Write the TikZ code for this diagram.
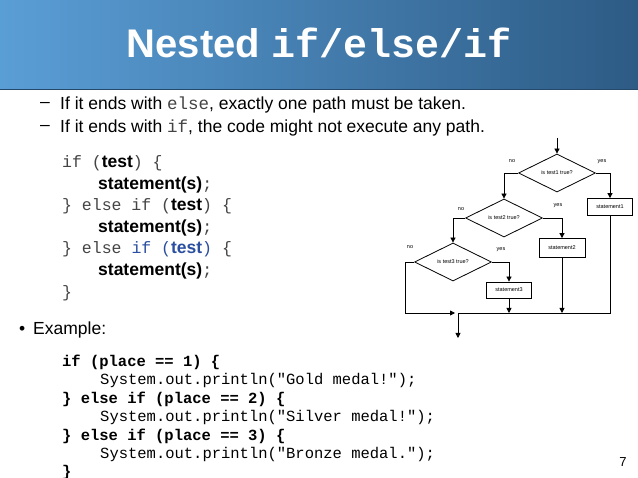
\documentclass[tikz,border=0pt]{standalone}
\usepackage{fontspec}
\setmainfont{Liberation Sans}
\setsansfont{Liberation Sans}
\setmonofont{Liberation Mono}
\usetikzlibrary{shapes.geometric,arrows.meta}
\definecolor{hdrL}{HTML}{5A9ED6}
\definecolor{hdrR}{HTML}{2D5B85}
\definecolor{codegray}{HTML}{444444}
\definecolor{kwblue}{HTML}{2A4EA0}
\tikzset{
  dia/.style={diamond,draw,thick,aspect=2.05,inner sep=0pt,minimum width=77pt,minimum height=38pt,font=\fontsize{5.5}{6}\selectfont},
  sbox/.style={rectangle,draw,thick,inner sep=0pt,font=\fontsize{5.5}{6}\selectfont},
  lab/.style={font=\fontsize{5.5}{6}\selectfont},
  fl/.style={thick,-{Triangle[length=5pt,width=5pt]}},
  ln/.style={thick},
  txt/.style={anchor=west,inner sep=0pt,font=\fontsize{17.5}{19}\selectfont},
  code/.style={anchor=west,inner sep=0pt,font=\fontsize{16.5}{18}\ttfamily,text=codegray},
  ex/.style={anchor=west,inner sep=0pt,font=\fontsize{15.5}{17}\ttfamily\bfseries},
  exn/.style={anchor=west,inner sep=0pt,font=\fontsize{15.5}{17}\ttfamily}
}
\newcommand{\bt}[1]{{\fontsize{17.5}{18}\sffamily\bfseries\color{black}#1}}
\begin{document}
\begin{tikzpicture}[x=1pt,y=-1pt]
\useasboundingbox (0,0) rectangle (638,478);
\fill[white] (0,0) rectangle (638,478);
\shade[left color=hdrL,right color=hdrR] (0,0) rectangle (638,90);
\draw[hdrR!80!black,line width=1pt] (0,90) -- (638,90);
\node[text=white,font=\fontsize{40}{44}\selectfont\bfseries] (title) at (319,43) {Nested \texttt{if/else/if}};
\node[txt] (b1d) at (40,105) {–};
\node[txt] (b1) at (60,105) {If it ends with {\ttfamily\color{codegray}else}, exactly one path must be taken.};
\node[txt] (b2d) at (40,128) {–};
\node[txt] (b2) at (60,128) {If it ends with {\ttfamily\color{codegray}if}, the code might not execute any path.};
\node[code] (c1) at (62,163) {if (\bt{test}) \{};
\node[code] (c2) at (98,185) {\bt{statement(s)};};
\node[code] (c3) at (62,206) {\} else if (\bt{test}) \{};
\node[code] (c4) at (98,228) {\bt{statement(s)};};
\node[code] (c5) at (62,249) {\} else {\color{kwblue}if (\bt{\color{kwblue}test})} \{};
\node[code] (c6) at (98,271) {\bt{statement(s)};};
\node[code] (c7) at (62,293) {\}};
\node[txt] (exb) at (19,330) {•};
\node[txt] (ext) at (33,330) {Example:};
\node[ex] (e1) at (62,362) {if (place == 1) \{};
\node[exn] (e2) at (100,380) {System.out.println("Gold medal!");};
\node[ex] (e3) at (62,399) {\} else if (place == 2) \{};
\node[exn] (e4) at (100,417) {System.out.println("Silver medal!");};
\node[ex] (e5) at (62,436) {\} else if (place == 3) \{};
\node[exn] (e6) at (100,454) {System.out.println("Bronze medal.");};
\node[ex] (e7) at (62,472) {\}};
\node[font=\fontsize{13}{14}\selectfont] (pg) at (623,462) {7};
% flowchart
\coordinate (top) at (557,138);
\node[dia] (d1) at (557,173) {is test1 true?};
\node[dia] (d2) at (504,218) {is test2 true?};
\node[dia] (d3) at (453,262) {is test3 true?};
\node[sbox,minimum width=45pt,minimum height=17pt] (s1) at (610,207) {statement1};
\node[sbox,minimum width=46pt,minimum height=19pt] (s2) at (562,248) {statement2};
\node[sbox,minimum width=45pt,minimum height=16pt] (s3) at (509,290) {statement3};
\coordinate (join) at (458,313);
\coordinate (jl) at (405,313);
\coordinate (out) at (458,338);
\node[lab] (n1) at (512,161) {no};
\node[lab] (y1) at (602,162) {yes};
\node[lab] (n2) at (461,209) {no};
\node[lab] (y2) at (558,206) {yes};
\node[lab] (n3) at (410,247) {no};
\node[lab] (y3) at (501,250) {yes};
\draw[fl] (top) -- (d1.north);
\draw[fl] (d1.west) -| (d2.north);
\draw[fl] (d1.east) -| (s1.north);
\draw[fl] (d2.west) -| (d3.north);
\draw[fl] (d2.east) -| (s2.north);
\draw[fl] (d3.east) -| (s3.north);
\draw[fl] (d3.west) -| (jl) -- ([xshift=-3pt]join);
\draw[ln] (s1.south) |- (join);
\draw[fl] (s2.south) -- (s2.south |- join);
\draw[fl] (s3.south) -- (s3.south |- join);
\draw[fl] (join) -- (out);
\end{tikzpicture}
\end{document}
